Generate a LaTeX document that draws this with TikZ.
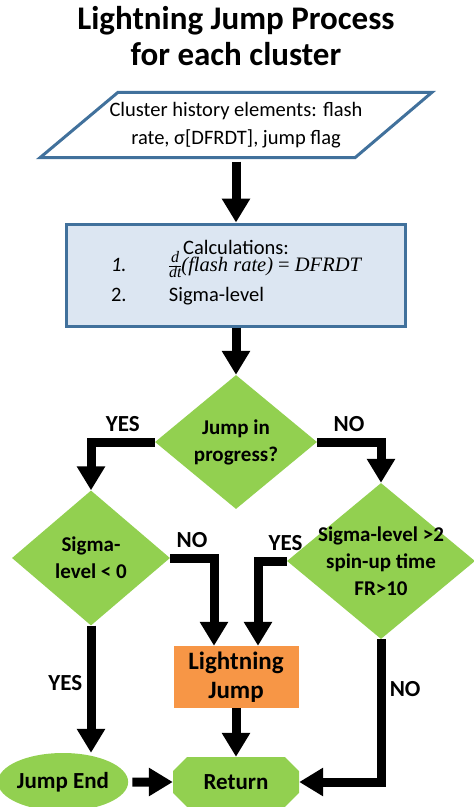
\documentclass[tikz,border=0pt]{standalone}
\usepackage{fontspec}
\setmainfont{Carlito}
\newfontfamily\ljserif{Liberation Serif}
\usetikzlibrary{arrows.meta,positioning,shapes.geometric,shapes.misc}

\definecolor{ljblue}{HTML}{41719C}
\definecolor{ljlight}{HTML}{DCE6F2}
\definecolor{ljgreen}{HTML}{92D050}
\definecolor{ljorange}{HTML}{F79646}

\newcommand{\ljfrac}[2]{$\vcenter{\hbox{\fontsize{16}{15}\ljserif\itshape
  \begin{tabular}{@{}c@{}}#1\\[-1pt]\hline #2\end{tabular}}}$}

\begin{document}
\begin{tikzpicture}[x=1pt,y=1pt,on grid,
                    font=\fontsize{20.5}{28}\selectfont]

  \tikzstyle{flow}=[-{Triangle[length=24pt,width=27pt]},line width=9pt,line join=miter]
  \tikzstyle{border}=[draw=ljblue,line width=3pt]
  \tikzstyle{decision}=[diamond,fill=ljgreen,inner sep=-30pt,align=center,
                        font=\bfseries\fontsize{21}{27}\selectfont]
  \tikzstyle{answer}=[font=\bfseries\fontsize{23}{27}\selectfont]

  \useasboundingbox (0,0) rectangle (474,-807);

  \node[font=\bfseries\fontsize{33}{36}\selectfont,align=center] (title) at (236,-36)
       {Lightning Jump Process\\for each cluster};
  \node[minimum height=65pt,align=center] (hist) [below=89pt of title]
       {Cluster history elements: flash\\rate, σ[DFRDT], jump flag};
  \draw[border] ([xshift=-118pt]hist.north) -- ([xshift=196pt]hist.north)
             -- ([xshift=119pt]hist.south) -- ([xshift=-196pt]hist.south) -- cycle;
  \node[border,fill=ljlight,minimum width=339pt,
        minimum height=102pt,align=center] (calc) [below=150pt of hist]
       {Calculations:\\[-4pt]
        \begin{tabular}{@{}p{46pt}l@{}}
          \textit{1.} & {\ljserif\itshape \ljfrac{d}{dt}(flash rate) {\upshape =} DFRDT}\\[1pt]
          2.          & Sigma-level
        \end{tabular}};
  \node[decision,minimum width=162pt,minimum height=134pt] (jp) [below=167pt of calc]
       {Jump in\\progress?};
  \node[decision,minimum width=158pt,minimum height=135pt] (sl)
       [below left=116pt and 145pt of jp] {Sigma-\\level < 0};
  \node[decision,minimum width=188pt,minimum height=156pt] (sr)
       [below right=119pt and 145pt of jp] {Sigma-level >2\\spin-up time\\FR>10};
  \node[fill=ljorange,minimum width=125pt,minimum height=62pt,align=center,
        font=\bfseries\fontsize{25}{29}\selectfont] (lj) [below=235pt of jp]
       {Lightning\\Jump};
  \node[chamfered rectangle,chamfered rectangle xsep=12pt,fill=ljgreen,
        minimum width=126pt,minimum height=50pt,
        font=\bfseries\fontsize{23}{27}\selectfont] (ret) [below=105pt of lj] {Return};
  \node[ellipse,fill=ljgreen,minimum width=124pt,minimum height=58pt,inner sep=0pt,
        font=\bfseries\fontsize{23}{27}\selectfont] (je) [left=173pt of ret] {Jump End};

  \draw[flow] ([yshift=-4pt]hist.south) -- (calc);
  \draw[flow] (calc) -- (jp);
  \draw[flow] (jp.west) -| node[answer,pos=0.25,above=3pt] {YES} (sl.north);
  \draw[flow] (jp.east) -| node[answer,pos=0.25,above=3pt] {NO} (sr.north);
  \draw[flow] (sl.east) -| node[answer,pos=0.25,above=3pt] {NO} ([xshift=-22pt]lj.north);
  \draw[flow] (sr.west) -| node[answer,pos=0.02,above=3pt] {YES} ([xshift=22pt]lj.north);
  \draw[flow] (sl.south) -- node[answer,pos=0.45,left=1pt] {YES} (sl.south |- je.north);
  \draw[flow] (lj) -- (ret);
  \draw[flow] ([xshift=4pt]je.east) -- (ret);
  \draw[flow] (sr.south) |- node[answer,pos=0.175,right=1pt] {NO} (ret.east);
\end{tikzpicture}
\end{document}
